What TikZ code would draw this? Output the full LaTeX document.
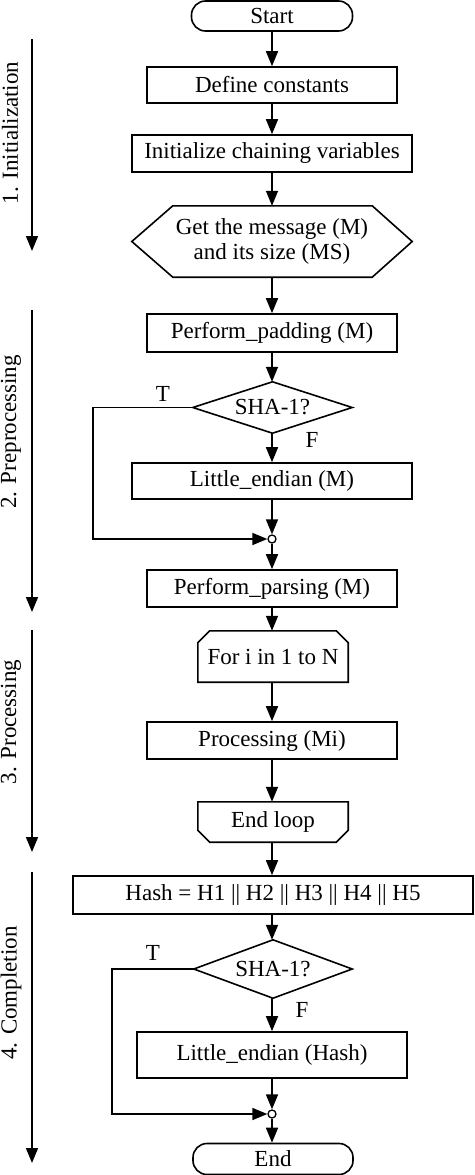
\documentclass[tikz,border=0pt]{standalone}
\usepackage{fontspec}
\setmainfont{Liberation Serif}
\usetikzlibrary{arrows.meta}
\begin{document}
\begin{tikzpicture}[x=1pt,y=-1pt,
  txt/.style={font=\fontsize{23}{25}\selectfont},
  box/.style={txt,draw,line width=1.6pt,inner sep=0pt,align=center},
  plain/.style={txt,inner sep=0pt,align=center},
  term/.style={box,rounded corners=14pt},
  outline/.style={draw,line width=1.6pt,line join=miter},
  flow/.style={line width=1.6pt,-{Triangle[length=15pt,width=12pt]}},
  junc/.style={circle,draw,line width=1.3pt,fill=white,inner sep=0pt,minimum size=8pt},
  phase/.style={txt,rotate=90,inner sep=0pt}]
\useasboundingbox (0,0) rectangle (474,1175);

% nodes
\node[term,minimum width=161pt,minimum height=30pt] (start) at (272,16) {Start};
\node[box,minimum width=250pt,minimum height=36pt] (def) at (272,85) {Define constants};
\node[box,minimum width=280pt,minimum height=37pt] (init) at (272,153.5) {Initialize chaining variables};
\node[plain,minimum width=280pt,minimum height=71pt] (get) at (272,241.5) {Get the message (M)\\and its size (MS)};
\draw[outline] (get.west) -- ([xshift=41pt]get.north west) -- ([xshift=-40pt]get.north east) -- (get.east) -- ([xshift=-40pt]get.south east) -- ([xshift=41pt]get.south west) -- cycle;
\node[box,minimum width=250pt,minimum height=38pt] (pad) at (272,333) {Perform\_padding (M)};
\node[plain,minimum width=159pt,minimum height=51pt] (d1) at (272.5,407.5) {SHA-1?};
\draw[outline] (d1.west) -- (d1.north) -- (d1.east) -- (d1.south) -- cycle;
\node[box,minimum width=280pt,minimum height=36pt] (le1) at (272,481) {Little\_endian (M)};
\node[junc] (j1) at (272,539) {};
\coordinate (c1) at (93,407.5);
\node[box,minimum width=250pt,minimum height=37pt] (parse) at (272,588.5) {Perform\_parsing (M)};
\node[plain,minimum width=150pt,minimum height=51pt] (for) at (273,656.5) {For i in 1 to N};
\draw[outline] (for.south west) -- ([yshift=-12pt]for.north west) -- ([xshift=12pt]for.north west) -- ([xshift=-12pt]for.north east) -- ([yshift=-12pt]for.north east) -- (for.south east) -- cycle;
\node[box,minimum width=250pt,minimum height=37pt] (proc) at (272,740.5) {Processing (Mi)};
\node[plain,minimum width=150pt,minimum height=40pt] (endl) at (273,822) {End loop};
\draw[outline] (endl.north west) -- (endl.north east) -- ([yshift=12pt]endl.south east) -- ([xshift=-12pt]endl.south east) -- ([xshift=12pt]endl.south west) -- ([yshift=12pt]endl.south west) -- cycle;
\node[box,minimum width=400pt,minimum height=38pt] (hash) at (273,895) {Hash = H1 || H2 || H3 || H4 || H5};
\node[plain,minimum width=158pt,minimum height=58pt] (d2) at (273,969) {SHA-1?};
\draw[outline] (d2.west) -- (d2.north) -- (d2.east) -- (d2.south) -- cycle;
\node[box,minimum width=270pt,minimum height=46pt] (le2) at (272,1055) {Little\_endian (Hash)};
\node[junc] (j2) at (272,1114) {};
\coordinate (c2) at (112,969);
\node[term,minimum width=160pt,minimum height=31pt] (end) at (273,1159) {End};

% labels
\node[plain] (t1) at (163,394) {T};
\node[plain] (f1) at (312,440) {F};
\node[plain] (t2) at (153,953) {T};
\node[plain] (f2) at (302,1010) {F};

% connectors
\draw[flow] (start.south) -- (def.north);
\draw[flow] (def.south) -- (init.north);
\draw[flow] (init.south) -- (get.north);
\draw[flow] (get.south) -- (pad.north);
\draw[flow] (pad.south) -- (d1.north -| pad.south);
\draw[flow] (d1.south -| le1.north) -- (le1.north);
\draw[flow] (le1.south) -- (j1.north);
\draw[flow] (d1.west) -- (c1) |- (j1.west);
\draw[flow] (j1.south) -- (parse.north);
\draw[flow] (parse.south) -- (parse.south |- for.north);
\draw[flow] (for.south -| proc.north) -- (proc.north);
\draw[flow] (proc.south) -- (proc.south |- endl.north);
\draw[flow] (endl.south -| proc.south) -- (hash.north -| proc.south);
\draw[flow] (hash.south -| proc.south) -- (d2.north -| proc.south);
\draw[flow] (d2.south -| le2.north) -- (le2.north);
\draw[flow] (le2.south) -- (j2.north);
\draw[flow] (d2.west) -- (c2) |- (j2.west);
\draw[flow] (j2.south) -- (j2.south |- end.north);

% phase arrows
\coordinate (p1a) at (32,39);  \coordinate (p1b) at (32,251);
\coordinate (p2a) at (32,310); \coordinate (p2b) at (32,612);
\coordinate (p3a) at (32,630); \coordinate (p3b) at (32,852);
\coordinate (p4a) at (32,872); \coordinate (p4b) at (32,1163);
\draw[flow] (p1a) -- (p1b);
\draw[flow] (p2a) -- (p2b);
\draw[flow] (p3a) -- (p3b);
\draw[flow] (p4a) -- (p4b);
\node[phase] (l1) at (10,133) {1. Initialization};
\node[phase] (l2) at (11,432) {2. Preprocessing};
\node[phase] (l3) at (11,722) {3. Processing};
\node[phase] (l4) at (11,993) {4. Completion};
\end{tikzpicture}
\end{document}
